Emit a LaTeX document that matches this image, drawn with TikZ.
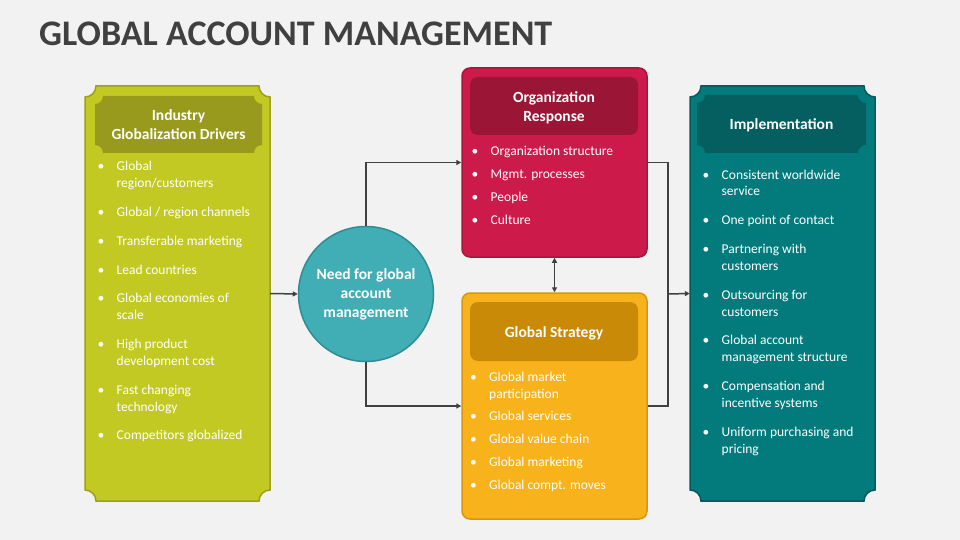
\documentclass[tikz,border=0pt]{standalone}
\usepackage{fontspec}
\setmainfont{Carlito}
\usetikzlibrary{arrows.meta}
\definecolor{bgcol}{HTML}{F2F2F2}
\definecolor{inkcol}{HTML}{404040}
\definecolor{lime}{HTML}{C2C923}
\definecolor{limeedge}{HTML}{9CA01B}
\definecolor{limehead}{HTML}{979A1C}
\definecolor{aqua}{HTML}{41AEB6}
\definecolor{aquaedge}{HTML}{2F8C93}
\definecolor{crimson}{HTML}{CC1B4A}
\definecolor{crimsonedge}{HTML}{A8153D}
\definecolor{crimsonhead}{HTML}{9B1537}
\definecolor{amber}{HTML}{F8B21B}
\definecolor{amberedge}{HTML}{D8960F}
\definecolor{amberhead}{HTML}{C88A07}
\definecolor{petrol}{HTML}{037B7D}
\definecolor{petroledge}{HTML}{045A5C}
\definecolor{petrolhead}{HTML}{055F60}
% #1 options, #2 x1, #3 y1, #4 x2, #5 y2, #6 notch radius
\newcommand{\notchbox}[6]{%
  \path[#1] (#2+#6,#3) -- (#4-#6,#3) arc[start angle=180,end angle=270,radius=#6pt]
    -- (#4,#5-#6) arc[start angle=90,end angle=180,radius=#6pt]
    -- (#2+#6,#5) arc[start angle=0,end angle=90,radius=#6pt]
    -- (#2,#3+#6) arc[start angle=270,end angle=360,radius=#6pt] -- cycle;}
\begin{document}
\begin{tikzpicture}[x=1pt,y=-1pt,
    >={Triangle[length=5pt,width=5pt]},
    conn/.style={draw=inkcol,line width=1.5pt,->},
    wire/.style={draw=inkcol,line width=1.5pt},
    panel/.style={inner sep=0,minimum width=185pt,minimum height=415pt},
    ctrbox/.style={rectangle,rounded corners=8pt,line width=1.5pt,inner sep=0,minimum width=185pt},
    headbox/.style={rectangle,rounded corners=8pt,inner sep=0,minimum width=168pt,minimum height=58pt},
    headtext/.style={text=white,align=center,inner sep=0,font=\bfseries\fontsize{15.5}{18.5}\selectfont},
    hub/.style={circle,fill=aqua,draw=aquaedge,line width=1.5pt,minimum size=135pt,inner sep=0,
      text=white,align=center,font=\bfseries\fontsize{15.5}{19}\selectfont},
    bullets/.style={anchor=base west,inner sep=0,text=white,font=\fontsize{13.5}{17}\selectfont}]
  \fill[bgcol] (0,0) rectangle (960,540);
  \useasboundingbox (0,0) rectangle (960,540);
  \node[anchor=base west,inner sep=0,text=inkcol,font=\bfseries\fontsize{36}{40}\selectfont] (title) at (39,46) {GLOBAL ACCOUNT MANAGEMENT};

  \notchbox{fill=lime,draw=limeedge,line width=1.5pt}{85}{86}{270}{501}{11}
  \notchbox{fill=limehead}{95}{96}{262}{153}{8}
  \node[panel] (drivers) at (177.5,293.5) {};
  \node[headtext] (drivershead) at (178.5,124.5) {Industry\\Globalization Drivers};
  \node[bullets] (driverslist) at (97.5,171) {\begin{tabular}[t]{@{}p{19pt}@{}l@{}}
    \textbullet & Global\\ & region/customers\\[11.7pt]
    \textbullet & Global / region channels\\[11.7pt]
    \textbullet & Transferable marketing\\[11.7pt]
    \textbullet & Lead countries\\[11.7pt]
    \textbullet & Global economies of\\ & scale\\[11.7pt]
    \textbullet & High product\\ & development cost\\[11.7pt]
    \textbullet & Fast changing\\ & technology\\[11.7pt]
    \textbullet & Competitors globalized
  \end{tabular}};

  \node[hub] (need) at (366,294) {Need for global\\account\\management};

  \node[ctrbox,fill=crimson,draw=crimsonedge,minimum height=189pt] (org) at (554.5,162.5) {};
  \node[headbox,fill=crimsonhead] (orghead) at (554,106) {};
  \node[headtext] at ([yshift=-2pt]orghead) {Organization\\Response};
  \node[bullets] (orglist) at (471.5,156) {\begin{tabular}[t]{@{}p{19pt}@{}l@{}}
    \textbullet & Organization structure\\[6pt]
    \textbullet & Mgmt. processes\\[6pt]
    \textbullet & People\\[6pt]
    \textbullet & Culture
  \end{tabular}};

  \node[ctrbox,fill=amber,draw=amberedge,minimum height=226pt] (strat) at (554.5,406) {};
  \node[headbox,fill=amberhead,minimum height=59pt] (strathead) at (554,331.5) {};
  \node[headtext] at ([yshift=-2pt]strathead) {Global Strategy};
  \node[bullets] (stratlist) at (470,381) {\begin{tabular}[t]{@{}p{19pt}@{}l@{}}
    \textbullet & Global market\\ & participation\\[5.8pt]
    \textbullet & Global services\\[5.8pt]
    \textbullet & Global value chain\\[5.8pt]
    \textbullet & Global marketing\\[5.8pt]
    \textbullet & Global compt. moves
  \end{tabular}};

  \notchbox{fill=petrol,draw=petroledge,line width=1.5pt}{690}{86}{875}{501}{11}
  \notchbox{fill=petrolhead}{697}{95}{866}{153}{8}
  \node[panel] (impl) at (782.5,293.5) {};
  \node[headtext] (implhead) at (781.5,125) {Implementation};
  \node[bullets] (impllist) at (702.5,179) {\begin{tabular}[t]{@{}p{19pt}@{}l@{}}
    \textbullet & Consistent worldwide\\ & service\\[11.7pt]
    \textbullet & One point of contact\\[11.7pt]
    \textbullet & Partnering with\\ & customers\\[11.7pt]
    \textbullet & Outsourcing for\\ & customers\\[11.7pt]
    \textbullet & Global account\\ & management structure\\[11.7pt]
    \textbullet & Compensation and\\ & incentive systems\\[11.7pt]
    \textbullet & Uniform purchasing and\\ & pricing
  \end{tabular}};

  \coordinate (merge) at (668,294);
  \draw[conn] (drivers.east) -- (need.west);
  \draw[conn] (need.north) |- (org.west);
  \draw[conn] (need.south) |- (strat.west);
  \draw[conn,<->] (org.south) -- (strat.north);
  \draw[wire] (org.east) -| (merge) |- (strat.east);
  \draw[conn] (merge) -- (impl.west);
\end{tikzpicture}
\end{document}
